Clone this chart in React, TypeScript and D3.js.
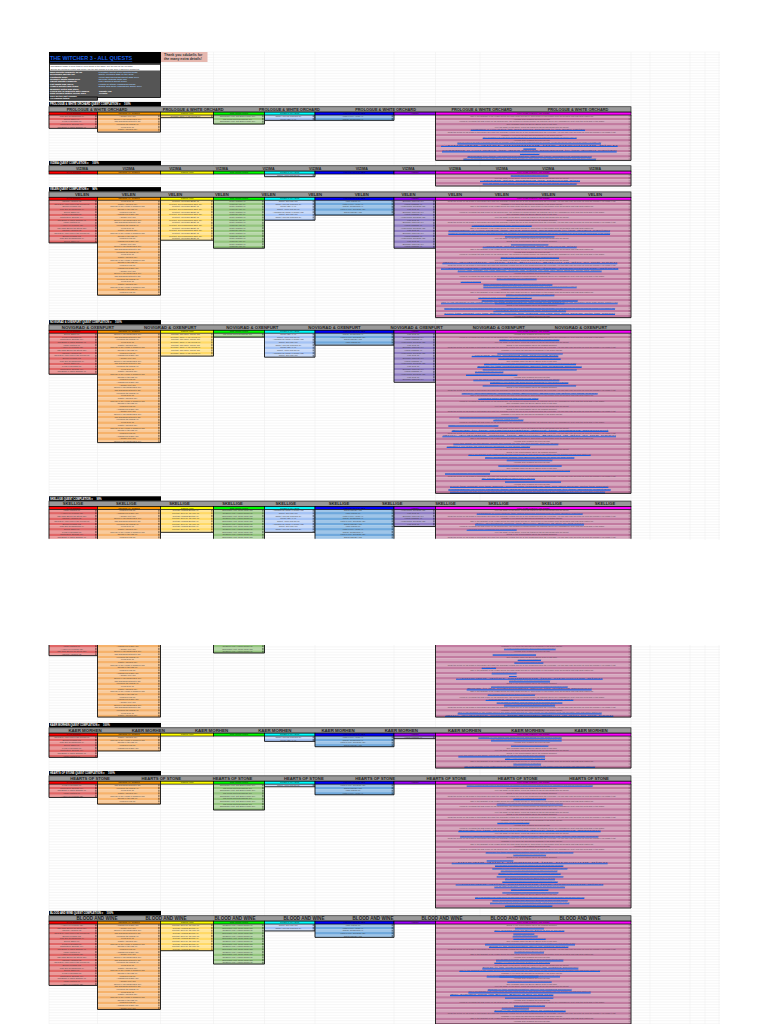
import React, { useEffect, useRef } from 'react';
import * as d3 from 'd3';

// the quest names in the sheet are too small to read in the picture,
// so the row texts below stand in for them; row counts and link widths are read off
const regionNames = ['PROLOGUE & WHITE ORCHARD', 'VIZIMA', 'VELEN', 'NOVIGRAD & OXENFURT', 'SKELLIGE', 'KAER MORHEN', 'HEARTS OF STONE', 'BLOOD AND WINE'];
const completion = ['100%', '100%', '96%', '100%', '99%', '100%', '100%', '100%'];
const headerRepeats = [6, 12, 12, 7, 11, 9, 8, 8];

// sheet row where each block starts
const blockRows = [18.7, 40.8, 50.6, 100.4, 166.4, 211.5, 229.5, 281.9];

// rows per column: red, orange, yellow, green, cyan, blue, purple, pink
const prologueRows = [5, 6.4, 1, 3.4, 2, 2, 0, 17];
const vizimaRows = [0, 0, 0, 0, 1, 0, 0, 4.5];
const velenRows = [16, 35.6, 15, 18, 7.5, 5.6, 18, 44];
const novigradRows = [15.4, 41, 8.6, 1.5, 9, 4.5, 18.4, 60];
const skelligeRows = [15, 38, 8.6, 14, 8.6, 11, 6.4, 38];
const kaerRows = [8, 5.6, 0, 0, 2, 4, 1, 12];
const heartsRows = [5, 7.5, 0, 9.7, 1, 4, 0, 46.4];
const bloodRows = [23, 32, 10, 15, 2.6, 5, 0, 37.5];
const blockColumnRows = [prologueRows, vizimaRows, velenRows, novigradRows, skelligeRows, kaerRows, heartsRows, bloodRows];

// blue links in the pink column: row, from, to (600ths of the 200px after the column start)
const prologueLinks = [[5, 107, 450], [8, 143, 425], [10, 67, 498], [11, 18, 548], [12, 265, 303], [13, 21, 545], [14, 255, 313], [15, 97, 470], [16, 85, 483]];
const vizimaLinks = [[0, 227, 340], [2, 135, 435], [3, 143, 425]];
const velenLinks = [[9, 110, 290], [11, 40, 525], [12, 40, 525], [13, 210, 358], [16, 228, 340], [17, 143, 425], [21, 197, 372], [23, 22, 547], [25, 18, 550], [26, 68, 500], [29, 185, 305], [30, 77, 138], [31, 145, 352], [32, 145, 425], [35, 213, 358], [36, 130, 290], [37, 140, 428], [38, 18, 548], [38, 180, 388], [40, 28, 540], [41, 175, 393], [42, 28, 540]];
const novigradLinks = [[2, 193, 373], [7, 187, 383], [8, 110, 370], [9, 190, 377], [11, 147, 423], [12, 127, 440], [13, 143, 425], [14, 120, 205], [15, 93, 247], [17, 115, 373], [18, 165, 400], [19, 143, 423], [22, 80, 488], [24, 130, 310], [31, 73, 250], [32, 175, 265], [34, 40, 190], [36, 50, 520], [38, 22, 543], [41, 55, 370], [42, 35, 285], [45, 100, 467], [46, 150, 418], [47, 215, 352], [49, 190, 380], [51, 165, 405], [52, 30, 165], [54, 140, 300], [55, 210, 378], [57, 45, 520], [58, 40, 527], [59, 45, 510]];
const skelligeLinks = [[1, 125, 443], [5, 120, 447], [7, 95, 245], [12, 207, 362], [14, 173, 303], [16, 248, 318], [17, 238, 325], [19, 140, 183], [21, 170, 245], [22, 222, 245], [23, 63, 503], [24, 222, 345], [26, 168, 398], [27, 95, 470], [29, 158, 300], [31, 152, 415], [32, 185, 382], [33, 207, 360], [36, 68, 500], [37, 30, 535], [37, 215, 352]];
const kaerLinks = [[0, 130, 380], [1, 168, 380], [3, 228, 340], [7, 70, 330], [8, 210, 330], [10, 235, 318], [11, 88, 480]];
const heartsLinks = [[0, 95, 473], [5, 235, 333], [7, 185, 383], [14, 187, 283], [17, 70, 497], [19, 75, 490], [25, 152, 415], [26, 235, 333], [28, 155, 235], [29, 50, 518], [30, 180, 385], [31, 172, 397], [32, 197, 367], [33, 190, 377], [34, 185, 385], [35, 210, 360], [36, 202, 368], [37, 62, 505], [38, 178, 390], [39, 228, 340], [40, 202, 370], [42, 120, 448], [43, 172, 398], [44, 165, 403], [45, 210, 352]];
const bloodLinks = [[1, 240, 327], [2, 178, 388], [3, 235, 298], [4, 233, 308], [5, 235, 332], [7, 150, 420], [8, 162, 400], [10, 238, 327], [13, 183, 385], [14, 178, 345], [16, 142, 430], [17, 73, 495], [19, 193, 375], [19, 155, 310], [21, 217, 350], [24, 158, 410], [25, 100, 467], [26, 45, 355], [27, 210, 355], [30, 237, 330], [31, 200, 282], [32, 178, 392]];
const blockLinks = [prologueLinks, vizimaLinks, velenLinks, novigradLinks, skelligeLinks, kaerLinks, heartsLinks, bloodLinks];

const columnTitles = ['MAIN QUESTS', 'SECONDARY QUESTS', 'CONTRACTS', 'TREASURE HUNTS', 'GWENT & PLAYERS', 'FIST FIGHTS & RACES', 'HIDDEN', 'UNMARKED QUESTS AND NOTES'];
const mainNames = ['Lilac and Gooseberries (1)', 'The Beast of White Orchard (1)', 'Imperial Audience (3)', 'Bloody Baron (6)', 'Family Matters (6)', 'Ciri\'s Story: The King of the Wolves (8)', 'Pyres of Novigrad (8)', 'A Favor for a Friend (12)', 'Broken Flowers (12)', 'Destination: Skellige (14)', 'The Calm Before the Storm (20)'];
const sideNames = ['A Deadly Plot (19)', 'Ghosts of the Past (6)', 'Fools Gold (5)', 'Return to Crookback Bog (10)', 'Funeral Pyres (5)', 'Master Armorers (24)', 'The Nobleman Statuette (11)', 'A Dangerous Game (10)', 'The Fall of the House of Reardon (18)', 'Following the Thread (7)'];
const contractNames = ['Contract: Jenny o\' the Woods (9)', 'Contract: Devil by the Well (3)', 'Contract: Woodland Beast (2)', 'Contract: The Merry Widow (15)', 'Contract: Missing Brother (7)', 'Contract: Doors Slamming Shut (11)'];
const treasureNames = ['Scavenger Hunt: Cat School Gear (16)', 'Treasure Hunt: Hidden Cache (8)', 'Costly Mistake (6)', 'The Tower Outta Nowheres (10)', 'Scavenger Hunt: Griffin Gear (18)', 'Precious Haul (9)'];
const gwentNames = ['Gwent: Playing Innkeeps (5)', 'Gwent: Velen Players (5)', 'Gwent: Old Pals (10)', 'Collect \'Em All (7)', 'A Dangerous Game of Gwent (12)'];
const fightNames = ['Fists of Fury: Velen (4)', 'Fists of Fury: Novigrad (15)', 'Fake Papers (8)', 'Races: Crossroads (4)', 'Shock Therapy (18)'];
const hiddenNames = ['Horse Race: Novigrad (12)', 'Hidden Passage (9)', 'Blindingly Obvious (14)', 'Lost Goat (5)'];
const noteNames = [
  'Talk to the herbalist in the village before the main quest moves on, then return for the reward once the monster nest has been destroyed',
  'Only available while the Bloody Baron is still in his keep',
  'Read the notice on the board in the square and meet the merchant outside the inn at the crossroads near the old bridge, you can also pick the letter up from the corpse if you reach it first',
  'Appears after finishing the previous step',
  'Loot the chest on the shore, follow the tracks up the hill and speak with the hermit',
  'Missable if you leave the area before speaking to the guard captain',
  'Found by following the map found on the dead soldier, the entrance is hidden behind the waterfall and is only reachable by boat from the north side of the island',
  'Speak to the quartermaster about the missing shipment'
];
const columnNames = [mainNames, sideNames, contractNames, treasureNames, gwentNames, fightNames, hiddenNames, noteNames];

const introLabels = ['Main quests complete so far', 'Secondary quests list', 'Contracts done', 'Treasure hunts found here', 'Gwent quests complete', 'Fist fights and races', 'Hidden quests and items', 'Missable notes and other', 'Levels are in brackets after names', 'Row colours match colour bars', 'Tick off the last column', 'All regions totals'];
const introLinks = ['Prologue quest order walkthrough', 'White Orchard map of the area', 'Velen and Novigrad quest map here', 'Skellige islands map link', 'Kaer Morhen quest order', 'Hearts of Stone expansion guide', 'Blood and Wine expansion guide here'];
const introExtras = ['Update log', 'Credits'];
const headerSizes = [3.9, 3.6, 4.2, 4.3, 4.1, 4.4, 4.2, 4.6];

const width = 768;
const height = 1024;
const sheetLeft = 49;
const sheetRight = 720;
const sheetTop = 52;
const rowHeight = 2.67;
const headRows = 4.9; // label + grey header + colour bar
const columnEdges = [49, 97.5, 160.5, 213.5, 264.5, 315, 394, 435.5, 631];
const headerFirst = [97, 82, 82, 88, 73, 85, 90, 97];
const headerLast = [578, 595, 595, 581, 605, 591, 589, 580];
const extraGrid = [480, 650, 690, 705, 719];
const barColors = ['#ff0000', '#ff9900', '#ffff00', '#00ff00', '#00ffff', '#0000ff', '#9900ff', '#ff00ff'];
const stripeA = ['#e06666', '#f6b26b', '#ffd966', '#93c47d', '#a4c2f4', '#6fa8dc', '#8e7cc3', '#c27ba0'];
const stripeB = ['#ea9999', '#f9cb9c', '#ffe599', '#b6d7a8', '#c9daf8', '#9fc5e8', '#b4a7d6', '#d5a6bd'];
const sansFont = '"Liberation Sans", Arial, sans-serif';

const App: React.FC = () => {
  const svgRef = useRef<SVGSVGElement | null>(null);

  useEffect(() => {
    const svg = d3.select(svgRef.current).attr('width', width).attr('height', height);
    svg.selectAll('*').remove();
    svg.attr('font-family', sansFont);

    // the sheet is cut by a page break in the middle of the Skellige block
    const breakRow = blockRows[4] + headRows + 11;
    const lastRow = breakRow + (height - 645) / rowHeight;
    const y = d3.scaleLinear()
      .domain([0, breakRow, breakRow, lastRow])
      .range([sheetTop, sheetTop + breakRow * rowHeight, 645, height]);
    const pageEnd = y(breakRow - 0.001) + 1.2;

    // faint spreadsheet grid
    const grid = svg.append('g').attr('stroke', '#ececec').attr('stroke-width', 0.5);
    d3.range(0, lastRow).forEach(r => {
      const yy = y(r);
      grid.append('line').attr('x1', sheetLeft).attr('x2', sheetRight).attr('y1', yy).attr('y2', yy);
    });
    [...columnEdges, ...extraGrid].forEach(x => {
      grid.append('line').attr('x1', x).attr('x2', x).attr('y1', sheetTop).attr('y2', pageEnd);
      grid.append('line').attr('x1', x).attr('x2', x).attr('y1', 645).attr('y2', height);
    });

    // title block
    const titleY = y(0);
    svg.append('rect').attr('x', 49).attr('width', 112).attr('y', titleY).attr('height', 11).attr('fill', '#000');
    svg.append('text').attr('x', 50).attr('y', titleY + 8).attr('font-size', 5.5).attr('font-weight', 'bold')
      .attr('fill', '#1a5fe0').attr('text-decoration', 'underline').text('THE WITCHER 3 - ALL QUESTS');
    svg.append('rect').attr('x', 161).attr('width', 46.5).attr('y', titleY).attr('height', 10).attr('fill', '#e6b8af');
    svg.append('text').attr('x', 164).attr('y', titleY + 3.8).attr('font-size', 3.5).attr('font-weight', 'bold').attr('fill', '#333').text('Thank you sdubelis for');
    svg.append('text').attr('x', 164).attr('y', titleY + 8).attr('font-size', 3.5).attr('font-weight', 'bold').attr('fill', '#333').text('the many extra details!');
    svg.append('rect').attr('x', 49.5).attr('width', 111).attr('y', titleY + 11).attr('height', 34.5).attr('fill', '#555').attr('stroke', '#000').attr('stroke-width', 0.8);
    svg.append('rect').attr('x', 49.5).attr('width', 48).attr('y', titleY + 45).attr('height', 3.2).attr('fill', '#555').attr('stroke', '#000').attr('stroke-width', 0.8);
    svg.append('rect').attr('x', 50).attr('width', 110).attr('y', titleY + 13).attr('height', 5.5).attr('fill', '#fff');
    svg.append('text').attr('x', 50.5).attr('y', titleY + 15).attr('font-size', 2.1).attr('fill', '#222').text('Spreadsheet made to keep track of every quest in the game, see the link for the full guide');
    svg.append('text').attr('x', 50.5).attr('y', titleY + 17.5).attr('font-size', 2.1).attr('fill', '#222').text('Quests are sorted by region and colour, tick the last column of a row once it has been completed');
    introLabels.forEach((t, i) => {
      svg.append('text').attr('x', 50).attr('y', titleY + 20.8 + i * 2.4).attr('font-size', 2.4).attr('font-weight', 'bold').attr('fill', '#fff').text(t);
    });
    introLinks.forEach((t, i) => {
      svg.append('text').attr('x', 98.5).attr('y', titleY + 20.8 + i * 2.4).attr('font-size', 2.4).attr('font-weight', 'bold').attr('fill', '#9fc5e8').text(t);
    });
    introExtras.forEach((t, i) => {
      svg.append('text').attr('x', 99).attr('y', titleY + 20.8 + (i + 8) * 2.4).attr('font-size', 2.4).attr('font-weight', 'bold').attr('fill', '#fff').text(t);
    });

    regionNames.forEach((name, b) => {
      const labelRow = blockRows[b];
      const firstRow = labelRow + headRows;
      const labelY = y(labelRow);
      const top = y(firstRow);
      const g = svg.append('g');

      g.append('rect').attr('x', 49).attr('width', 112).attr('y', labelY).attr('height', 4.6).attr('fill', '#000');
      g.append('text').attr('x', 50).attr('y', labelY + 3.3).attr('font-size', 2.6).attr('font-weight', 'bold').attr('fill', '#fff')
        .style('white-space', 'pre').text(`${name} QUEST COMPLETION =     ${completion[b]}`);

      // grey header with the region name repeated across it
      g.append('rect').attr('x', 49).attr('width', 582).attr('y', labelY + 4.8).attr('height', 5.4).attr('fill', '#999').attr('stroke', '#222').attr('stroke-width', 0.7);
      const headerX = d3.scalePoint<number>().domain(d3.range(headerRepeats[b])).range([headerFirst[b], headerLast[b]]);
      d3.range(headerRepeats[b]).forEach(i => {
        g.append('text').attr('x', headerX(i) as number).attr('y', labelY + 9).attr('text-anchor', 'middle')
          .attr('font-size', headerSizes[b]).attr('font-weight', 'bold').attr('fill', '#222').text(name);
      });

      blockColumnRows[b].forEach((count, c) => {
        const x0 = columnEdges[c];
        const x1 = columnEdges[c + 1];
        const mid = (x0 + x1 - 3) / 2;
        const names = columnNames[c];

        const stripes = g.append('g');
        d3.range(Math.ceil(count)).forEach(i => {
          const rowTop = y(firstRow + i + 0.001);
          const rowBottom = y(firstRow + Math.min(i + 1, count) - 0.001);
          stripes.append('rect').attr('x', x0).attr('width', x1 - x0).attr('y', rowTop).attr('height', rowBottom - rowTop + 0.05)
            .attr('fill', i % 2 ? stripeA[c] : stripeB[c]);
          stripes.append('rect').attr('x', x1 - 2.4).attr('width', 1.5).attr('y', rowTop + 0.3).attr('height', Math.max(0, rowBottom - rowTop - 0.7))
            .attr('fill', '#000').attr('opacity', c === 7 ? 0.15 : 0.4);
        });

        // row texts, the pink column gets its link rows from the data
        const links = c === 7 ? blockLinks[b] : [];
        const linkRows = new Set(links.map(d => d[0]));
        d3.range(Math.floor(count)).forEach(i => {
          if (linkRows.has(i)) return;
          stripes.append('text').attr('x', mid).attr('y', y(firstRow + i + 0.001) + 1.9).attr('text-anchor', 'middle')
            .attr('font-size', 2.05).attr('fill', c === 7 ? '#5a4050' : '#444').text(names[(i * 3 + b) % names.length]);
        });

        const linkX = d3.scaleLinear().domain([0, 600]).range([435, 635]);
        links.forEach(([row, from, to]) => {
          const rowTop = y(firstRow + row + 0.001);
          stripes.append('text').attr('x', linkX(from)).attr('y', rowTop + 1.7).attr('font-size', 2.05).attr('fill', '#3a4a8a')
            .attr('textLength', linkX(to) - linkX(from)).attr('lengthAdjust', 'spacingAndGlyphs')
            .text(names[(row + b) % names.length]);
          stripes.append('line').attr('x1', linkX(from)).attr('x2', linkX(to)).attr('y1', rowTop + 2.15).attr('y2', rowTop + 2.15)
            .attr('stroke', '#1a5fe0').attr('stroke-width', 1.1);
        });

        // colour bar with the column title
        g.append('rect').attr('x', x0).attr('width', x1 - x0).attr('y', top - 2.9).attr('height', 2.9)
          .attr('fill', barColors[c]).attr('stroke', '#000').attr('stroke-width', 0.7);
        g.append('text').attr('x', (x0 + x1) / 2).attr('y', top - 0.7).attr('text-anchor', 'middle').attr('font-size', 2)
          .attr('fill', c === 5 ? '#000044' : '#222').text(columnTitles[c]);

        if (count > 0) {
          const end = firstRow + count;
          const border = d3.path();
          if (firstRow < breakRow && end > breakRow + 0.01) {
            const cut = y(breakRow - 0.001);
            border.moveTo(x0, top); border.lineTo(x0, cut);
            border.moveTo(x1, top); border.lineTo(x1, cut);
            border.moveTo(x0, 645); border.lineTo(x0, y(end)); border.lineTo(x1, y(end)); border.lineTo(x1, 645);
          } else {
            const bottom = y(end - 0.001);
            border.moveTo(x0, top); border.lineTo(x0, bottom);
            if (end < breakRow - 0.01 || firstRow > breakRow) {
              border.lineTo(x1, bottom);
            } else {
              border.moveTo(x1, bottom);
            }
            border.lineTo(x1, top);
          }
          g.append('path').attr('d', border.toString()).attr('fill', 'none').attr('stroke', '#111').attr('stroke-width', 0.9);
        }
      });
    });
  }, []);

  return <svg ref={svgRef} style={{ position: 'absolute', left: 0, top: 0 }}></svg>;
};

export default App;
